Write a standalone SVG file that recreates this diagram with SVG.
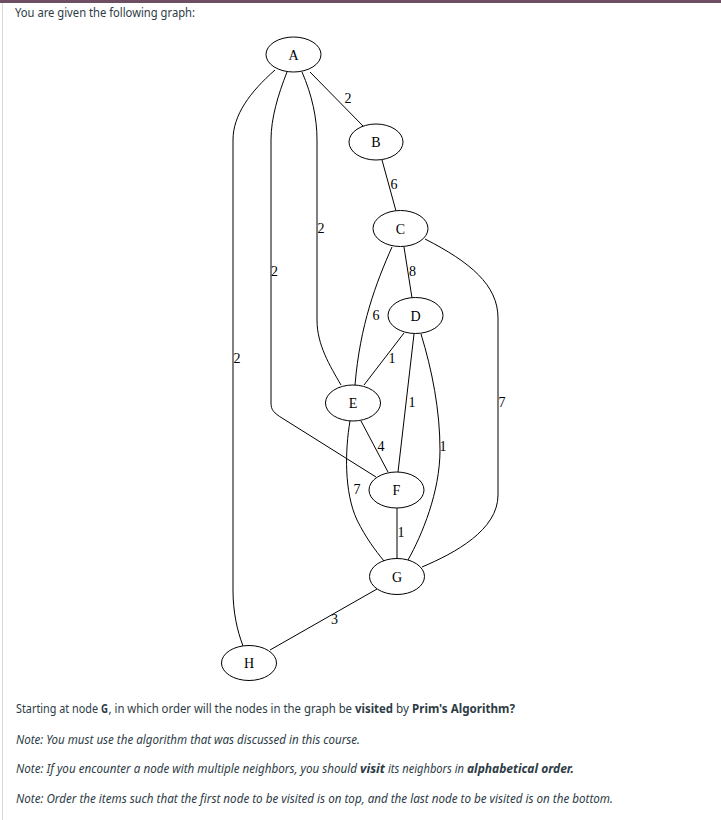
<svg xmlns="http://www.w3.org/2000/svg" width="721" height="820" viewBox="0 0 721 820">
<style>
.node ellipse{fill:#fff;stroke:#000;stroke-width:1}
.node text{font-family:"Liberation Serif",serif;font-size:14px;text-anchor:middle;fill:#000}
.edges path{fill:none;stroke:#000;stroke-width:1}
.lbl{font-family:"Liberation Serif",serif;font-size:14px;text-anchor:middle;fill:#000}
.t{font-family:"Noto Sans","Open Sans",sans-serif;font-size:12.5px;fill:#2d3b45}
.b{font-weight:bold}
.i{font-style:italic}
</style>
<rect x="0" y="0" width="721" height="820" fill="#fff"/>
<rect x="0" y="0" width="721" height="3" fill="#6e4e63"/>
<rect x="2" y="3" width="1" height="817" fill="#d8d8d8"/>
<text class="t" x="15" y="17" textLength="180" lengthAdjust="spacingAndGlyphs">You are given the following graph:</text>

<g class="edges" id="edges">
<path d="M275,70 C250,92 233,115 233,140 L233,590 C233,612 237,630 243,646"/>
<path d="M287,72 C278,95 271,118 271,140 L271,403 C271,410 274,413 282,418 L376,477"/>
<path d="M302,72 C312,95 317,118 317,140 L317,320 C317,345 330,366 341,385"/>
<path d="M310,72 L363,126"/>
<path d="M382,160 L396,211"/>
<path d="M404,247 L412,298"/>
<path d="M392,247 C376,283 360,325 355,385"/>
<path d="M425,239 C470,262 498,285 498,318 L498,495 C498,530 455,553 422,567"/>
<path d="M404,333 L364,385"/>
<path d="M414,334 L398,472"/>
<path d="M421,334 C432,370 440,410 440,450 C440,492 422,535 408,560"/>
<path d="M361,421 L388,472"/>
<path d="M350,421 C345,450 344,492 357,520 C366,538 375,550 384,561"/>
<path d="M397,508 L397,559"/>
<path d="M377,589 L270,650"/>
</g>

<g id="edge-labels">
<text class="lbl" x="348" y="102.5">2</text>
<text class="lbl" x="394" y="188.5">6</text>
<text class="lbl" x="321" y="233">2</text>
<text class="lbl" x="274.5" y="276">2</text>
<text class="lbl" x="412.5" y="276">8</text>
<text class="lbl" x="376" y="320">6</text>
<text class="lbl" x="237" y="363">2</text>
<text class="lbl" x="392" y="363">1</text>
<text class="lbl" x="412" y="407">1</text>
<text class="lbl" x="502" y="407">7</text>
<text class="lbl" x="381" y="450.5">4</text>
<text class="lbl" x="443" y="450.5">1</text>
<text class="lbl" x="357" y="494">7</text>
<text class="lbl" x="401" y="537">1</text>
<text class="lbl" x="334.5" y="624">3</text>
</g>

<g class="node" id="node-A"><ellipse cx="293.5" cy="54.5" rx="27.5" ry="17.5"/><text x="293.5" y="59.5">A</text></g>
<g class="node" id="node-B"><ellipse cx="376" cy="142" rx="27" ry="18"/><text x="376" y="147">B</text></g>
<g class="node" id="node-C"><ellipse cx="400.5" cy="228.5" rx="27.5" ry="18"/><text x="400.5" y="233.5">C</text></g>
<g class="node" id="node-D"><ellipse cx="415.5" cy="315.5" rx="27.5" ry="18"/><text x="415.5" y="320.5">D</text></g>
<g class="node" id="node-E"><ellipse cx="353" cy="403" rx="27.5" ry="18"/><text x="353" y="408">E</text></g>
<g class="node" id="node-F"><ellipse cx="396.5" cy="490" rx="27.5" ry="18"/><text x="396.5" y="495">F</text></g>
<g class="node" id="node-G"><ellipse cx="397" cy="576.5" rx="27.5" ry="18"/><text x="397" y="581.5">G</text></g>
<g class="node" id="node-H"><ellipse cx="249" cy="663" rx="27.5" ry="17.5"/><text x="249" y="668">H</text></g>

<g id="question">
<text class="t" x="16" y="712.5" textLength="82" lengthAdjust="spacingAndGlyphs">Starting at node</text>
<text class="t b" x="101" y="712.5" textLength="7" lengthAdjust="spacingAndGlyphs">G</text>
<text class="t" x="108.5" y="712.5" textLength="243.5" lengthAdjust="spacingAndGlyphs">, in which order will the nodes in the graph be</text>
<text class="t b" x="355" y="712.5" textLength="38" lengthAdjust="spacingAndGlyphs">visited</text>
<text class="t" x="396" y="712.5" textLength="13" lengthAdjust="spacingAndGlyphs">by</text>
<text class="t b" x="412" y="712.5" textLength="103" lengthAdjust="spacingAndGlyphs">Prim's Algorithm?</text>
<text class="t i" x="16" y="743.5" textLength="344" lengthAdjust="spacingAndGlyphs">Note: You must use the algorithm that was discussed in this course.</text>
<text class="t i" x="16" y="773" textLength="341" lengthAdjust="spacingAndGlyphs">Note: If you encounter a node with multiple neighbors, you should</text>
<text class="t i b" x="360" y="773" textLength="25" lengthAdjust="spacingAndGlyphs">visit</text>
<text class="t i" x="388" y="773" textLength="76" lengthAdjust="spacingAndGlyphs">its neighbors in</text>
<text class="t i b" x="467" y="773" textLength="107" lengthAdjust="spacingAndGlyphs">alphabetical order.</text>
<text class="t i" x="16" y="803" textLength="597" lengthAdjust="spacingAndGlyphs">Note: Order the items such that the first node to be visited is on top, and the last node to be visited is on the bottom.</text>
</g>
</svg>
